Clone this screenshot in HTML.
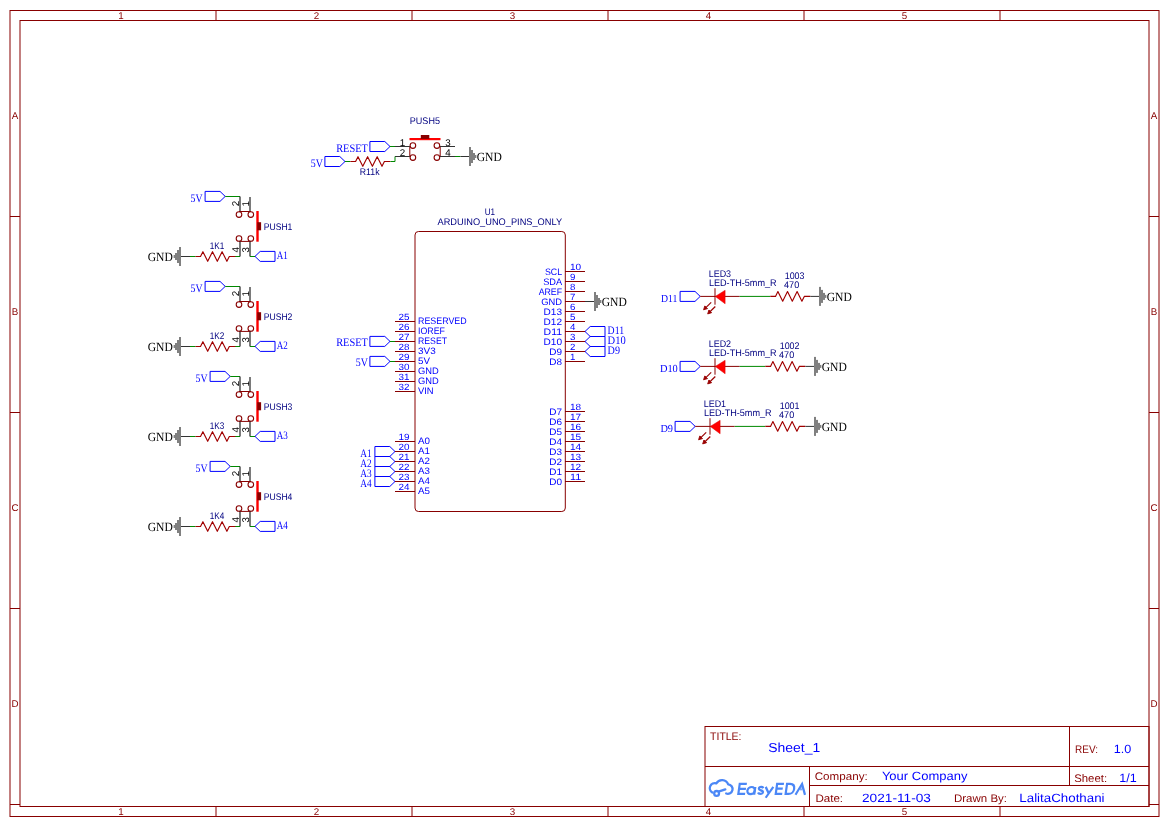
<!DOCTYPE html>
<html><head><meta charset="utf-8">
<style>
html,body{margin:0;padding:0;background:#fff;overflow:hidden;}
svg{display:block;will-change:transform;text-rendering:geometricPrecision;}
text{font-family:"Liberation Sans",sans-serif;}
.sf{font-family:"Liberation Serif",serif;}
</style></head><body>
<svg width="1169" height="827" viewBox="0 0 1169 827">
<g stroke="#880000" fill="none" stroke-width="1">
<rect x="10" y="10.5" width="1149" height="806"/>
<rect x="20" y="20.5" width="1129" height="786"/>
<path d="M216 10.5V20.5M412 10.5V20.5M608 10.5V20.5M804 10.5V20.5M1000 10.5V20.5"/>
<path d="M216 806.5V816.5M412 806.5V816.5M608 806.5V816.5M804 806.5V816.5M1000 806.5V816.5"/>
<path d="M10 216.5H20M10 412.5H20M10 608.5H20M10 804.5H20"/>
<path d="M1149 216.5H1159M1149 412.5H1159M1149 608.5H1159M1149 804.5H1159"/>
</g>
<g fill="#880000" font-size="9.8" text-anchor="middle">
<text x="121" y="18.5">1</text><text x="121" y="814.5">1</text>
<text x="316.5" y="18.5">2</text><text x="316.5" y="814.5">2</text>
<text x="512.5" y="18.5">3</text><text x="512.5" y="814.5">3</text>
<text x="708.5" y="18.5">4</text><text x="708.5" y="814.5">4</text>
<text x="904.5" y="18.5">5</text><text x="904.5" y="814.5">5</text>
<text x="15" y="118.5">A</text><text x="1154" y="118.5">A</text>
<text x="15" y="314.5">B</text><text x="1154" y="314.5">B</text>
<text x="15" y="510.5">C</text><text x="1154" y="510.5">C</text>
<text x="15" y="706.5">D</text><text x="1154" y="706.5">D</text>
</g>
<g stroke="#880000" fill="none" stroke-width="1">
<rect x="705" y="726.5" width="444" height="80"/>
<path d="M705 766.5H1149M1069.5 726.5V785.5M809.5 766.5V806.5M809.5 785.5H1149"/>
</g>
<g font-size="11" fill="#880000">
<text x="710.1" y="740" textLength="31.4" lengthAdjust="spacingAndGlyphs">TITLE:</text>
<text x="1075" y="752.7" textLength="23" lengthAdjust="spacingAndGlyphs">REV:</text>
<text x="1074.2" y="781.5" textLength="32.9" lengthAdjust="spacingAndGlyphs">Sheet:</text>
<text x="814.7" y="780.3" textLength="53" lengthAdjust="spacingAndGlyphs">Company:</text>
<text x="815.4" y="801.6" textLength="27.7" lengthAdjust="spacingAndGlyphs">Date:</text>
<text x="954" y="801.6" textLength="53" lengthAdjust="spacingAndGlyphs">Drawn By:</text>
</g>
<g font-size="12" fill="#0000ff">
<text x="768.2" y="751.9" font-size="13" textLength="52" lengthAdjust="spacingAndGlyphs">Sheet_1</text>
<text x="1113.8" y="752.7" font-size="12" textLength="17.5" lengthAdjust="spacingAndGlyphs">1.0</text>
<text x="1119.2" y="781.5" font-size="12" textLength="17.5" lengthAdjust="spacingAndGlyphs">1/1</text>
<text x="881.9" y="780.3" font-size="12" textLength="85.5" lengthAdjust="spacingAndGlyphs">Your Company</text>
<text x="862" y="801.6" font-size="12" textLength="68.9" lengthAdjust="spacingAndGlyphs">2021-11-03</text>
<text x="1019.3" y="801.7" font-size="12" textLength="85.3" lengthAdjust="spacingAndGlyphs">LalitaChothani</text>
</g>
<text x="409.8" y="123.7" font-size="9.6" fill="#000080" text-anchor="start" textLength="30.2" lengthAdjust="spacingAndGlyphs">PUSH5</text>
<rect x="409.5" y="138" width="31" height="2.2" fill="#ff0000"/>
<rect x="420.8" y="135" width="8.5" height="4" fill="#880000"/>
<circle cx="412.9" cy="145.6" r="2.8" fill="none" stroke="#880000" stroke-width="1.1"/>
<circle cx="412.9" cy="157.6" r="2.8" fill="none" stroke="#880000" stroke-width="1.1"/>
<circle cx="436.9" cy="145.6" r="2.8" fill="none" stroke="#880000" stroke-width="1.1"/>
<circle cx="436.9" cy="157.6" r="2.8" fill="none" stroke="#880000" stroke-width="1.1"/>
<path d="M409.8 146V157M440.2 146V157" fill="none" stroke="#880000" stroke-width="1"/>
<path d="M395 146.5H409.8M395 156.5H409.8M440 146.5H455M440 156.5H455" fill="none" stroke="#333333" stroke-width="1"/>
<text x="402.4" y="146.2" font-size="9.8" fill="#000" text-anchor="middle">1</text>
<text x="402.4" y="156.2" font-size="9.8" fill="#000" text-anchor="middle">2</text>
<text x="448" y="145.5" font-size="9.8" fill="#000" text-anchor="middle">3</text>
<text x="448" y="155.5" font-size="9.8" fill="#000" text-anchor="middle">4</text>
<path d="M369.9 141.5 H384.8 L390 146.5 L384.8 151.5 H369.9 Z" fill="none" stroke="#0000ff" stroke-width="1"/>
<text x="336.2" y="151.6" class="sf" font-size="11.5" fill="#0000ff" text-anchor="start" textLength="31.7" lengthAdjust="spacingAndGlyphs">RESET</text>
<path d="M390 146.5H395" fill="none" stroke="#008800" stroke-width="1"/>
<path d="M324.9 156.5 H339.8 L345 161.5 L339.8 166.5 H324.9 Z" fill="none" stroke="#0000ff" stroke-width="1"/>
<text x="310.8" y="166.5" class="sf" font-size="11.5" fill="#0000ff" text-anchor="start" textLength="12.2" lengthAdjust="spacingAndGlyphs">5V</text>
<path d="M345 161.5H350.4" fill="none" stroke="#008800" stroke-width="1"/>
<path d="M350.4 161.5 h5.2 l2.4 -4.8 l4.8 9.6 l4.8 -9.6 l4.8 9.6 l4.8 -9.6 l4.8 9.6 l2.4 -4.8 H390.4" fill="none" stroke="#a00000" stroke-width="1.15" stroke-linejoin="round"/>
<path d="M390.4 161.5H395V156.5" fill="none" stroke="#008800" stroke-width="1"/>
<text x="359.8" y="174.5" font-size="9.6" fill="#000080" text-anchor="start" textLength="19.8" lengthAdjust="spacingAndGlyphs">R11k</text>
<path d="M455 156.5H460.5" fill="none" stroke="#008800" stroke-width="1"/>
<path d="M460.5 156.5H469" fill="none" stroke="#333333" stroke-width="1"/>
<g fill="#808080"><rect x="469" y="147.0" width="2" height="19"/><rect x="471" y="150.0" width="2" height="13"/><rect x="473" y="153.0" width="2" height="7"/><rect x="475" y="155.0" width="1.4" height="3"/></g>
<text x="476.7" y="160.8" class="sf" font-size="12.5" fill="#000" text-anchor="start" textLength="25.1" lengthAdjust="spacingAndGlyphs">GND</text>
<path d="M205.1 191.4 H220.0 L225.2 196.4 L220.0 201.4 H205.1 Z" fill="none" stroke="#0000ff" stroke-width="1"/>
<text x="190.6" y="201.5" class="sf" font-size="11.5" fill="#0000ff" text-anchor="start" textLength="12" lengthAdjust="spacingAndGlyphs">5V</text>
<path d="M225.2 196.5H240" fill="none" stroke="#008800" stroke-width="1"/>
<path d="M240 196.5V211M250 197V211" fill="none" stroke="#333333" stroke-width="1.3"/>
<text transform="translate(239.2 203.6) rotate(-90)" font-size="9.8" fill="#000" text-anchor="middle">2</text>
<text transform="translate(249.2 203.9) rotate(-90)" font-size="9.8" fill="#000" text-anchor="middle">1</text>
<circle cx="239" cy="214.6" r="2.8" fill="none" stroke="#880000" stroke-width="1.1"/>
<circle cx="239" cy="238.5" r="2.8" fill="none" stroke="#880000" stroke-width="1.1"/>
<circle cx="250.8" cy="214.6" r="2.8" fill="none" stroke="#880000" stroke-width="1.1"/>
<circle cx="250.8" cy="238.5" r="2.8" fill="none" stroke="#880000" stroke-width="1.1"/>
<path d="M239 211.5H251M239 241.4H251" fill="none" stroke="#880000" stroke-width="1"/>
<rect x="256.3" y="211" width="2.4" height="30.7" fill="#ff0000"/>
<rect x="257.3" y="222.2" width="3.8" height="8.1" fill="#880000"/>
<text x="263.7" y="229.5" font-size="9.6" fill="#000080" text-anchor="start" textLength="28.7" lengthAdjust="spacingAndGlyphs">PUSH1</text>
<path d="M240 241.4V256.5M250 241.4V256.5" fill="none" stroke="#333333" stroke-width="1.3"/>
<text transform="translate(239 249.9) rotate(-90)" font-size="9.8" fill="#000" text-anchor="middle">4</text>
<text transform="translate(249 249.8) rotate(-90)" font-size="9.8" fill="#000" text-anchor="middle">3</text>
<path d="M235 256.5H240M250 256.5H255" fill="none" stroke="#008800" stroke-width="1"/>
<path d="M255 256.4 L260.2 251.39999999999998 H275 V261.4 H260.2 Z" fill="none" stroke="#0000ff" stroke-width="1"/>
<text x="276.7" y="258.9" class="sf" font-size="11.5" fill="#0000ff" text-anchor="start" textLength="11.1" lengthAdjust="spacingAndGlyphs">A1</text>
<path d="M195.3 256.5 h5.2 l2.4 -4.8 l4.8 9.6 l4.8 -9.6 l4.8 9.6 l4.8 -9.6 l4.8 9.6 l2.4 -4.8 H235.3" fill="none" stroke="#a00000" stroke-width="1.15" stroke-linejoin="round"/>
<text x="209.8" y="248.5" font-size="9.6" fill="#000080" text-anchor="start" textLength="14.6" lengthAdjust="spacingAndGlyphs">1K1</text>
<path d="M190 256.5H195.3" fill="none" stroke="#008800" stroke-width="1"/>
<path d="M181 256.5H190" fill="none" stroke="#333333" stroke-width="1"/>
<g fill="#808080"><rect x="179" y="247.0" width="2" height="19"/><rect x="177" y="250.0" width="2" height="13"/><rect x="175" y="253.0" width="2" height="7"/><rect x="173.6" y="255.0" width="1.4" height="3"/></g>
<text x="147.7" y="260.5" class="sf" font-size="12.5" fill="#000" text-anchor="start" textLength="25.1" lengthAdjust="spacingAndGlyphs">GND</text>
<path d="M205.1 281.4 H220.0 L225.2 286.4 L220.0 291.4 H205.1 Z" fill="none" stroke="#0000ff" stroke-width="1"/>
<text x="190.6" y="291.5" class="sf" font-size="11.5" fill="#0000ff" text-anchor="start" textLength="12" lengthAdjust="spacingAndGlyphs">5V</text>
<path d="M225.2 286.5H240" fill="none" stroke="#008800" stroke-width="1"/>
<path d="M240 286.5V301M250 287V301" fill="none" stroke="#333333" stroke-width="1.3"/>
<text transform="translate(239.2 293.6) rotate(-90)" font-size="9.8" fill="#000" text-anchor="middle">2</text>
<text transform="translate(249.2 293.9) rotate(-90)" font-size="9.8" fill="#000" text-anchor="middle">1</text>
<circle cx="239" cy="304.6" r="2.8" fill="none" stroke="#880000" stroke-width="1.1"/>
<circle cx="239" cy="328.5" r="2.8" fill="none" stroke="#880000" stroke-width="1.1"/>
<circle cx="250.8" cy="304.6" r="2.8" fill="none" stroke="#880000" stroke-width="1.1"/>
<circle cx="250.8" cy="328.5" r="2.8" fill="none" stroke="#880000" stroke-width="1.1"/>
<path d="M239 301.5H251M239 331.4H251" fill="none" stroke="#880000" stroke-width="1"/>
<rect x="256.3" y="301" width="2.4" height="30.7" fill="#ff0000"/>
<rect x="257.3" y="312.2" width="3.8" height="8.1" fill="#880000"/>
<text x="263.7" y="319.5" font-size="9.6" fill="#000080" text-anchor="start" textLength="28.7" lengthAdjust="spacingAndGlyphs">PUSH2</text>
<path d="M240 331.4V346.5M250 331.4V346.5" fill="none" stroke="#333333" stroke-width="1.3"/>
<text transform="translate(239 339.9) rotate(-90)" font-size="9.8" fill="#000" text-anchor="middle">4</text>
<text transform="translate(249 339.8) rotate(-90)" font-size="9.8" fill="#000" text-anchor="middle">3</text>
<path d="M235 346.5H240M250 346.5H255" fill="none" stroke="#008800" stroke-width="1"/>
<path d="M255 346.4 L260.2 341.4 H275 V351.4 H260.2 Z" fill="none" stroke="#0000ff" stroke-width="1"/>
<text x="276.7" y="348.9" class="sf" font-size="11.5" fill="#0000ff" text-anchor="start" textLength="11.1" lengthAdjust="spacingAndGlyphs">A2</text>
<path d="M195.3 346.5 h5.2 l2.4 -4.8 l4.8 9.6 l4.8 -9.6 l4.8 9.6 l4.8 -9.6 l4.8 9.6 l2.4 -4.8 H235.3" fill="none" stroke="#a00000" stroke-width="1.15" stroke-linejoin="round"/>
<text x="209.8" y="338.5" font-size="9.6" fill="#000080" text-anchor="start" textLength="14.6" lengthAdjust="spacingAndGlyphs">1K2</text>
<path d="M190 346.5H195.3" fill="none" stroke="#008800" stroke-width="1"/>
<path d="M181 346.5H190" fill="none" stroke="#333333" stroke-width="1"/>
<g fill="#808080"><rect x="179" y="337.0" width="2" height="19"/><rect x="177" y="340.0" width="2" height="13"/><rect x="175" y="343.0" width="2" height="7"/><rect x="173.6" y="345.0" width="1.4" height="3"/></g>
<text x="147.7" y="350.5" class="sf" font-size="12.5" fill="#000" text-anchor="start" textLength="25.1" lengthAdjust="spacingAndGlyphs">GND</text>
<path d="M210.1 371.4 H225.0 L230.2 376.4 L225.0 381.4 H210.1 Z" fill="none" stroke="#0000ff" stroke-width="1"/>
<text x="195.6" y="381.5" class="sf" font-size="11.5" fill="#0000ff" text-anchor="start" textLength="12" lengthAdjust="spacingAndGlyphs">5V</text>
<path d="M230.2 376.5H240" fill="none" stroke="#008800" stroke-width="1"/>
<path d="M240 376.5V391M250 377V391" fill="none" stroke="#333333" stroke-width="1.3"/>
<text transform="translate(239.2 383.6) rotate(-90)" font-size="9.8" fill="#000" text-anchor="middle">2</text>
<text transform="translate(249.2 383.9) rotate(-90)" font-size="9.8" fill="#000" text-anchor="middle">1</text>
<circle cx="239" cy="394.6" r="2.8" fill="none" stroke="#880000" stroke-width="1.1"/>
<circle cx="239" cy="418.5" r="2.8" fill="none" stroke="#880000" stroke-width="1.1"/>
<circle cx="250.8" cy="394.6" r="2.8" fill="none" stroke="#880000" stroke-width="1.1"/>
<circle cx="250.8" cy="418.5" r="2.8" fill="none" stroke="#880000" stroke-width="1.1"/>
<path d="M239 391.5H251M239 421.4H251" fill="none" stroke="#880000" stroke-width="1"/>
<rect x="256.3" y="391" width="2.4" height="30.7" fill="#ff0000"/>
<rect x="257.3" y="402.2" width="3.8" height="8.1" fill="#880000"/>
<text x="263.7" y="409.5" font-size="9.6" fill="#000080" text-anchor="start" textLength="28.7" lengthAdjust="spacingAndGlyphs">PUSH3</text>
<path d="M240 421.4V436.5M250 421.4V436.5" fill="none" stroke="#333333" stroke-width="1.3"/>
<text transform="translate(239 429.9) rotate(-90)" font-size="9.8" fill="#000" text-anchor="middle">4</text>
<text transform="translate(249 429.8) rotate(-90)" font-size="9.8" fill="#000" text-anchor="middle">3</text>
<path d="M235 436.5H240M250 436.5H255" fill="none" stroke="#008800" stroke-width="1"/>
<path d="M255 436.4 L260.2 431.4 H275 V441.4 H260.2 Z" fill="none" stroke="#0000ff" stroke-width="1"/>
<text x="276.7" y="438.9" class="sf" font-size="11.5" fill="#0000ff" text-anchor="start" textLength="11.1" lengthAdjust="spacingAndGlyphs">A3</text>
<path d="M195.3 436.5 h5.2 l2.4 -4.8 l4.8 9.6 l4.8 -9.6 l4.8 9.6 l4.8 -9.6 l4.8 9.6 l2.4 -4.8 H235.3" fill="none" stroke="#a00000" stroke-width="1.15" stroke-linejoin="round"/>
<text x="209.8" y="428.5" font-size="9.6" fill="#000080" text-anchor="start" textLength="14.6" lengthAdjust="spacingAndGlyphs">1K3</text>
<path d="M190 436.5H195.3" fill="none" stroke="#008800" stroke-width="1"/>
<path d="M181 436.5H190" fill="none" stroke="#333333" stroke-width="1"/>
<g fill="#808080"><rect x="179" y="427.0" width="2" height="19"/><rect x="177" y="430.0" width="2" height="13"/><rect x="175" y="433.0" width="2" height="7"/><rect x="173.6" y="435.0" width="1.4" height="3"/></g>
<text x="147.7" y="440.5" class="sf" font-size="12.5" fill="#000" text-anchor="start" textLength="25.1" lengthAdjust="spacingAndGlyphs">GND</text>
<path d="M210.1 461.4 H225.0 L230.2 466.4 L225.0 471.4 H210.1 Z" fill="none" stroke="#0000ff" stroke-width="1"/>
<text x="195.6" y="471.5" class="sf" font-size="11.5" fill="#0000ff" text-anchor="start" textLength="12" lengthAdjust="spacingAndGlyphs">5V</text>
<path d="M230.2 466.5H240" fill="none" stroke="#008800" stroke-width="1"/>
<path d="M240 466.5V481M250 467V481" fill="none" stroke="#333333" stroke-width="1.3"/>
<text transform="translate(239.2 473.6) rotate(-90)" font-size="9.8" fill="#000" text-anchor="middle">2</text>
<text transform="translate(249.2 473.9) rotate(-90)" font-size="9.8" fill="#000" text-anchor="middle">1</text>
<circle cx="239" cy="484.6" r="2.8" fill="none" stroke="#880000" stroke-width="1.1"/>
<circle cx="239" cy="508.5" r="2.8" fill="none" stroke="#880000" stroke-width="1.1"/>
<circle cx="250.8" cy="484.6" r="2.8" fill="none" stroke="#880000" stroke-width="1.1"/>
<circle cx="250.8" cy="508.5" r="2.8" fill="none" stroke="#880000" stroke-width="1.1"/>
<path d="M239 481.5H251M239 511.4H251" fill="none" stroke="#880000" stroke-width="1"/>
<rect x="256.3" y="481" width="2.4" height="30.7" fill="#ff0000"/>
<rect x="257.3" y="492.2" width="3.8" height="8.1" fill="#880000"/>
<text x="263.7" y="499.5" font-size="9.6" fill="#000080" text-anchor="start" textLength="28.7" lengthAdjust="spacingAndGlyphs">PUSH4</text>
<path d="M240 511.4V526.5M250 511.4V526.5" fill="none" stroke="#333333" stroke-width="1.3"/>
<text transform="translate(239 519.9) rotate(-90)" font-size="9.8" fill="#000" text-anchor="middle">4</text>
<text transform="translate(249 519.8) rotate(-90)" font-size="9.8" fill="#000" text-anchor="middle">3</text>
<path d="M235 526.5H240M250 526.5H255" fill="none" stroke="#008800" stroke-width="1"/>
<path d="M255 526.4 L260.2 521.4 H275 V531.4 H260.2 Z" fill="none" stroke="#0000ff" stroke-width="1"/>
<text x="276.7" y="528.9" class="sf" font-size="11.5" fill="#0000ff" text-anchor="start" textLength="11.1" lengthAdjust="spacingAndGlyphs">A4</text>
<path d="M195.3 526.5 h5.2 l2.4 -4.8 l4.8 9.6 l4.8 -9.6 l4.8 9.6 l4.8 -9.6 l4.8 9.6 l2.4 -4.8 H235.3" fill="none" stroke="#a00000" stroke-width="1.15" stroke-linejoin="round"/>
<text x="209.8" y="518.5" font-size="9.6" fill="#000080" text-anchor="start" textLength="14.6" lengthAdjust="spacingAndGlyphs">1K4</text>
<path d="M190 526.5H195.3" fill="none" stroke="#008800" stroke-width="1"/>
<path d="M181 526.5H190" fill="none" stroke="#333333" stroke-width="1"/>
<g fill="#808080"><rect x="179" y="517.0" width="2" height="19"/><rect x="177" y="520.0" width="2" height="13"/><rect x="175" y="523.0" width="2" height="7"/><rect x="173.6" y="525.0" width="1.4" height="3"/></g>
<text x="147.7" y="530.5" class="sf" font-size="12.5" fill="#000" text-anchor="start" textLength="25.1" lengthAdjust="spacingAndGlyphs">GND</text>
<text x="484.7" y="214.6" font-size="9.6" fill="#000080" text-anchor="start" textLength="10.3" lengthAdjust="spacingAndGlyphs">U1</text>
<text x="437.5" y="224.6" font-size="9.6" fill="#000080" text-anchor="start" textLength="124.6" lengthAdjust="spacingAndGlyphs">ARDUINO_UNO_PINS_ONLY</text>
<rect x="415" y="231.5" width="150.3" height="280" rx="3.5" fill="none" stroke="#880000" stroke-width="1"/>
<path d="M395 321.5H415M395 331.5H415M395 341.5H415M395 351.5H415M395 361.5H415M395 371.5H415M395 381.5H415M395 391.5H415M395 441.5H415M395 451.5H415M395 461.5H415M395 471.5H415M395 481.5H415M395 491.5H415M565 271.5H585M565 281.5H585M565 291.5H585M565 301.5H585M565 311.5H585M565 321.5H585M565 331.5H585M565 341.5H585M565 351.5H585M565 361.5H585M565 411.5H585M565 421.5H585M565 431.5H585M565 441.5H585M565 451.5H585M565 461.5H585M565 471.5H585M565 481.5H585" fill="none" stroke="#880000" stroke-width="1"/>
<g font-size="9" fill="#0000ff">
<text x="398.6" y="320.2" textLength="11" lengthAdjust="spacingAndGlyphs">25</text><text x="418" y="324.4" font-size="9.4" textLength="48.69" lengthAdjust="spacingAndGlyphs">RESERVED</text>
<text x="398.6" y="330.2" textLength="11" lengthAdjust="spacingAndGlyphs">26</text><text x="418" y="334.4" font-size="9.4" textLength="27.03" lengthAdjust="spacingAndGlyphs">IOREF</text>
<text x="398.6" y="340.2" textLength="11" lengthAdjust="spacingAndGlyphs">27</text><text x="418" y="344.4" font-size="9.4" textLength="29.03" lengthAdjust="spacingAndGlyphs">RESET</text>
<text x="398.6" y="350.2" textLength="11" lengthAdjust="spacingAndGlyphs">28</text><text x="418" y="354.4" font-size="9.4" textLength="17.73" lengthAdjust="spacingAndGlyphs">3V3</text>
<text x="398.6" y="360.2" textLength="11" lengthAdjust="spacingAndGlyphs">29</text><text x="418" y="364.4" font-size="9.4" textLength="11.96" lengthAdjust="spacingAndGlyphs">5V</text>
<text x="398.6" y="370.2" textLength="11" lengthAdjust="spacingAndGlyphs">30</text><text x="418" y="374.4" font-size="9.4" textLength="20.77" lengthAdjust="spacingAndGlyphs">GND</text>
<text x="398.6" y="380.2" textLength="11" lengthAdjust="spacingAndGlyphs">31</text><text x="418" y="384.4" font-size="9.4" textLength="20.77" lengthAdjust="spacingAndGlyphs">GND</text>
<text x="398.6" y="390.2" textLength="11" lengthAdjust="spacingAndGlyphs">32</text><text x="418" y="394.4" font-size="9.4" textLength="15.65" lengthAdjust="spacingAndGlyphs">VIN</text>
<text x="398.6" y="440.2" textLength="11" lengthAdjust="spacingAndGlyphs">19</text><text x="418" y="444.4" font-size="9.4" textLength="11.96" lengthAdjust="spacingAndGlyphs">A0</text>
<text x="398.6" y="450.2" textLength="11" lengthAdjust="spacingAndGlyphs">20</text><text x="418" y="454.4" font-size="9.4" textLength="11.96" lengthAdjust="spacingAndGlyphs">A1</text>
<text x="398.6" y="460.2" textLength="11" lengthAdjust="spacingAndGlyphs">21</text><text x="418" y="464.4" font-size="9.4" textLength="11.96" lengthAdjust="spacingAndGlyphs">A2</text>
<text x="398.6" y="470.2" textLength="11" lengthAdjust="spacingAndGlyphs">22</text><text x="418" y="474.4" font-size="9.4" textLength="11.96" lengthAdjust="spacingAndGlyphs">A3</text>
<text x="398.6" y="480.2" textLength="11" lengthAdjust="spacingAndGlyphs">23</text><text x="418" y="484.4" font-size="9.4" textLength="11.96" lengthAdjust="spacingAndGlyphs">A4</text>
<text x="398.6" y="490.2" textLength="11" lengthAdjust="spacingAndGlyphs">24</text><text x="418" y="494.4" font-size="9.4" textLength="11.96" lengthAdjust="spacingAndGlyphs">A5</text>
<text x="570" y="270.4" textLength="11.2" lengthAdjust="spacingAndGlyphs">10</text><text x="544.98" y="274.6" font-size="9.4" textLength="17.12" lengthAdjust="spacingAndGlyphs">SCL</text>
<text x="570" y="280.4" textLength="5.4" lengthAdjust="spacingAndGlyphs">9</text><text x="543.1700000000001" y="284.6" font-size="9.4" textLength="18.93" lengthAdjust="spacingAndGlyphs">SDA</text>
<text x="570" y="290.4" textLength="5.4" lengthAdjust="spacingAndGlyphs">8</text><text x="538.6700000000001" y="294.6" font-size="9.4" textLength="23.43" lengthAdjust="spacingAndGlyphs">AREF</text>
<text x="570" y="300.4" textLength="5.4" lengthAdjust="spacingAndGlyphs">7</text><text x="541.33" y="304.6" font-size="9.4" textLength="20.77" lengthAdjust="spacingAndGlyphs">GND</text>
<text x="570" y="310.4" textLength="5.4" lengthAdjust="spacingAndGlyphs">6</text><text x="543.6" y="314.6" font-size="9.4" textLength="18.5" lengthAdjust="spacingAndGlyphs">D13</text>
<text x="570" y="320.4" textLength="5.4" lengthAdjust="spacingAndGlyphs">5</text><text x="543.6" y="324.6" font-size="9.4" textLength="18.5" lengthAdjust="spacingAndGlyphs">D12</text>
<text x="570" y="330.4" textLength="5.4" lengthAdjust="spacingAndGlyphs">4</text><text x="543.6" y="334.6" font-size="9.4" textLength="18.5" lengthAdjust="spacingAndGlyphs">D11</text>
<text x="570" y="340.4" textLength="5.4" lengthAdjust="spacingAndGlyphs">3</text><text x="543.6" y="344.6" font-size="9.4" textLength="18.5" lengthAdjust="spacingAndGlyphs">D10</text>
<text x="570" y="350.4" textLength="5.4" lengthAdjust="spacingAndGlyphs">2</text><text x="549.36" y="354.6" font-size="9.4" textLength="12.74" lengthAdjust="spacingAndGlyphs">D9</text>
<text x="570" y="360.4" textLength="5.4" lengthAdjust="spacingAndGlyphs">1</text><text x="549.36" y="364.6" font-size="9.4" textLength="12.74" lengthAdjust="spacingAndGlyphs">D8</text>
<text x="570" y="410.4" textLength="11.2" lengthAdjust="spacingAndGlyphs">18</text><text x="549.36" y="414.6" font-size="9.4" textLength="12.74" lengthAdjust="spacingAndGlyphs">D7</text>
<text x="570" y="420.4" textLength="11.2" lengthAdjust="spacingAndGlyphs">17</text><text x="549.36" y="424.6" font-size="9.4" textLength="12.74" lengthAdjust="spacingAndGlyphs">D6</text>
<text x="570" y="430.4" textLength="11.2" lengthAdjust="spacingAndGlyphs">16</text><text x="549.36" y="434.6" font-size="9.4" textLength="12.74" lengthAdjust="spacingAndGlyphs">D5</text>
<text x="570" y="440.4" textLength="11.2" lengthAdjust="spacingAndGlyphs">15</text><text x="549.36" y="444.6" font-size="9.4" textLength="12.74" lengthAdjust="spacingAndGlyphs">D4</text>
<text x="570" y="450.4" textLength="11.2" lengthAdjust="spacingAndGlyphs">14</text><text x="549.36" y="454.6" font-size="9.4" textLength="12.74" lengthAdjust="spacingAndGlyphs">D3</text>
<text x="570" y="460.4" textLength="11.2" lengthAdjust="spacingAndGlyphs">13</text><text x="549.36" y="464.6" font-size="9.4" textLength="12.74" lengthAdjust="spacingAndGlyphs">D2</text>
<text x="570" y="470.4" textLength="11.2" lengthAdjust="spacingAndGlyphs">12</text><text x="549.36" y="474.6" font-size="9.4" textLength="12.74" lengthAdjust="spacingAndGlyphs">D1</text>
<text x="570" y="480.4" textLength="11.2" lengthAdjust="spacingAndGlyphs">11</text><text x="549.36" y="484.6" font-size="9.4" textLength="12.74" lengthAdjust="spacingAndGlyphs">D0</text>
</g>
<path d="M369.9 336.4 H384.8 L390 341.4 L384.8 346.4 H369.9 Z" fill="none" stroke="#0000ff" stroke-width="1"/>
<text x="336.2" y="346.3" class="sf" font-size="11.5" fill="#0000ff" text-anchor="start" textLength="31.7" lengthAdjust="spacingAndGlyphs">RESET</text>
<path d="M390 341.5H395" fill="none" stroke="#008800" stroke-width="1"/>
<path d="M369.9 356.4 H384.8 L390 361.4 L384.8 366.4 H369.9 Z" fill="none" stroke="#0000ff" stroke-width="1"/>
<text x="355.7" y="366.3" class="sf" font-size="11.5" fill="#0000ff" text-anchor="start" textLength="12.2" lengthAdjust="spacingAndGlyphs">5V</text>
<path d="M390 361.5H395" fill="none" stroke="#008800" stroke-width="1"/>
<path d="M374.9 446.5 H389.8 L395 451.5 L389.8 456.5 H374.9 Z" fill="none" stroke="#0000ff" stroke-width="1"/>
<text x="360.3" y="457.2" class="sf" font-size="11.5" fill="#0000ff" text-anchor="start" textLength="11.4" lengthAdjust="spacingAndGlyphs">A1</text>
<path d="M374.9 456.5 H389.8 L395 461.5 L389.8 466.5 H374.9 Z" fill="none" stroke="#0000ff" stroke-width="1"/>
<text x="360.3" y="467.2" class="sf" font-size="11.5" fill="#0000ff" text-anchor="start" textLength="11.4" lengthAdjust="spacingAndGlyphs">A2</text>
<path d="M374.9 466.5 H389.8 L395 471.5 L389.8 476.5 H374.9 Z" fill="none" stroke="#0000ff" stroke-width="1"/>
<text x="360.3" y="477.2" class="sf" font-size="11.5" fill="#0000ff" text-anchor="start" textLength="11.4" lengthAdjust="spacingAndGlyphs">A3</text>
<path d="M374.9 476.5 H389.8 L395 481.5 L389.8 486.5 H374.9 Z" fill="none" stroke="#0000ff" stroke-width="1"/>
<text x="360.3" y="487.2" class="sf" font-size="11.5" fill="#0000ff" text-anchor="start" textLength="11.4" lengthAdjust="spacingAndGlyphs">A4</text>
<path d="M585 331.5 L590.2 326.5 H605 V336.5 H590.2 Z" fill="none" stroke="#0000ff" stroke-width="1"/>
<text x="607.6" y="333.7" class="sf" font-size="11.5" fill="#0000ff" text-anchor="start" textLength="16.5" lengthAdjust="spacingAndGlyphs">D11</text>
<path d="M585 341.5 L590.2 336.5 H605 V346.5 H590.2 Z" fill="none" stroke="#0000ff" stroke-width="1"/>
<text x="607.6" y="343.7" class="sf" font-size="11.5" fill="#0000ff" text-anchor="start" textLength="18.1" lengthAdjust="spacingAndGlyphs">D10</text>
<path d="M585 351.5 L590.2 346.5 H605 V356.5 H590.2 Z" fill="none" stroke="#0000ff" stroke-width="1"/>
<text x="607.6" y="353.7" class="sf" font-size="11.5" fill="#0000ff" text-anchor="start" textLength="12.4" lengthAdjust="spacingAndGlyphs">D9</text>
<path d="M585 301.5H594" fill="none" stroke="#333333" stroke-width="1"/>
<g fill="#808080"><rect x="594" y="292.0" width="2" height="19"/><rect x="596" y="295.0" width="2" height="13"/><rect x="598" y="298.0" width="2" height="7"/><rect x="600" y="300.0" width="1.4" height="3"/></g>
<text x="601.7" y="305.8" class="sf" font-size="12.5" fill="#000" text-anchor="start" textLength="25.1" lengthAdjust="spacingAndGlyphs">GND</text>
<path d="M680.1 291.4 H695.0 L700.2 296.4 L695.0 301.4 H680.1 Z" fill="none" stroke="#0000ff" stroke-width="1"/>
<text x="661" y="301.7" class="sf" font-size="10.8" fill="#0000ff" text-anchor="start" textLength="16.4" lengthAdjust="spacingAndGlyphs">D11</text>
<path d="M700.2 296.4H739.7" fill="none" stroke="#880000" stroke-width="1"/>
<path d="M715 288.2V304.7" fill="none" stroke="#880000" stroke-width="1"/>
<path d="M715.3 296.4 L725.1 290.29999999999995 V303.79999999999995 Z" fill="#ff0000" stroke="#dd0000" stroke-width="0.5"/>
<path d="M711.2 302.4 L706.1 307.4" stroke="#990000" stroke-width="1.2" fill="none"/>
<path d="M703.6 309.79999999999995 l3.9 -1.2 l-2.7 -2.7 Z" fill="#990000" stroke="#990000" stroke-width="0.9" stroke-linejoin="round"/>
<path d="M715.3 306.49999999999994 L710.2 311.5" stroke="#990000" stroke-width="1.2" fill="none"/>
<path d="M707.7 313.9 l3.9 -1.2 l-2.7 -2.7 Z" fill="#990000" stroke="#990000" stroke-width="0.9" stroke-linejoin="round"/>
<text x="708.7" y="276.79999999999995" font-size="9.6" fill="#000080" text-anchor="start" textLength="22.4" lengthAdjust="spacingAndGlyphs">LED3</text>
<text x="708.9" y="285.7" font-size="9.6" fill="#000080" text-anchor="start" textLength="67.8" lengthAdjust="spacingAndGlyphs">LED-TH-5mm_R</text>
<path d="M739.7 296.4H770.3" fill="none" stroke="#008800" stroke-width="1"/>
<path d="M770.3 296.4 h5.2 l2.4 -4.8 l4.8 9.6 l4.8 -9.6 l4.8 9.6 l4.8 -9.6 l4.8 9.6 l2.4 -4.8 H810.3" fill="none" stroke="#a00000" stroke-width="1.15" stroke-linejoin="round"/>
<path d="M810.3 296.4H819" fill="none" stroke="#333333" stroke-width="1"/>
<g fill="#808080"><rect x="819" y="286.9" width="2" height="19"/><rect x="821" y="289.9" width="2" height="13"/><rect x="823" y="292.9" width="2" height="7"/><rect x="825" y="294.9" width="1.4" height="3"/></g>
<text x="826.7" y="300.7" class="sf" font-size="12.5" fill="#000" text-anchor="start" textLength="25.1" lengthAdjust="spacingAndGlyphs">GND</text>
<text x="784.7" y="279.29999999999995" font-size="9.6" fill="#000080" text-anchor="start" textLength="19.8" lengthAdjust="spacingAndGlyphs">1003</text>
<text x="784" y="288.4" font-size="9.6" fill="#000080" text-anchor="start" textLength="15.2" lengthAdjust="spacingAndGlyphs">470</text>
<path d="M680.1 361.4 H695.0 L700.2 366.4 L695.0 371.4 H680.1 Z" fill="none" stroke="#0000ff" stroke-width="1"/>
<text x="659.9" y="371.7" class="sf" font-size="10.8" fill="#0000ff" text-anchor="start" textLength="17.9" lengthAdjust="spacingAndGlyphs">D10</text>
<path d="M700.2 366.4H739.7" fill="none" stroke="#880000" stroke-width="1"/>
<path d="M715 358.2V374.7" fill="none" stroke="#880000" stroke-width="1"/>
<path d="M715.3 366.4 L725.1 360.29999999999995 V373.79999999999995 Z" fill="#ff0000" stroke="#dd0000" stroke-width="0.5"/>
<path d="M711.2 372.4 L706.1 377.4" stroke="#990000" stroke-width="1.2" fill="none"/>
<path d="M703.6 379.79999999999995 l3.9 -1.2 l-2.7 -2.7 Z" fill="#990000" stroke="#990000" stroke-width="0.9" stroke-linejoin="round"/>
<path d="M715.3 376.49999999999994 L710.2 381.5" stroke="#990000" stroke-width="1.2" fill="none"/>
<path d="M707.7 383.9 l3.9 -1.2 l-2.7 -2.7 Z" fill="#990000" stroke="#990000" stroke-width="0.9" stroke-linejoin="round"/>
<text x="708.7" y="346.79999999999995" font-size="9.6" fill="#000080" text-anchor="start" textLength="22.4" lengthAdjust="spacingAndGlyphs">LED2</text>
<text x="708.9" y="355.7" font-size="9.6" fill="#000080" text-anchor="start" textLength="67.8" lengthAdjust="spacingAndGlyphs">LED-TH-5mm_R</text>
<path d="M739.7 366.4H765.3" fill="none" stroke="#008800" stroke-width="1"/>
<path d="M765.3 366.4 h5.2 l2.4 -4.8 l4.8 9.6 l4.8 -9.6 l4.8 9.6 l4.8 -9.6 l4.8 9.6 l2.4 -4.8 H805.3" fill="none" stroke="#a00000" stroke-width="1.15" stroke-linejoin="round"/>
<path d="M805.3 366.4H814" fill="none" stroke="#333333" stroke-width="1"/>
<g fill="#808080"><rect x="814" y="356.9" width="2" height="19"/><rect x="816" y="359.9" width="2" height="13"/><rect x="818" y="362.9" width="2" height="7"/><rect x="820" y="364.9" width="1.4" height="3"/></g>
<text x="821.7" y="370.7" class="sf" font-size="12.5" fill="#000" text-anchor="start" textLength="25.1" lengthAdjust="spacingAndGlyphs">GND</text>
<text x="779.7" y="349.29999999999995" font-size="9.6" fill="#000080" text-anchor="start" textLength="19.8" lengthAdjust="spacingAndGlyphs">1002</text>
<text x="779" y="358.4" font-size="9.6" fill="#000080" text-anchor="start" textLength="15.2" lengthAdjust="spacingAndGlyphs">470</text>
<path d="M675.1 421.4 H690.0 L695.2 426.4 L690.0 431.4 H675.1 Z" fill="none" stroke="#0000ff" stroke-width="1"/>
<text x="660.4" y="431.7" class="sf" font-size="10.8" fill="#0000ff" text-anchor="start" textLength="12.6" lengthAdjust="spacingAndGlyphs">D9</text>
<path d="M695.2 426.4H734.7" fill="none" stroke="#880000" stroke-width="1"/>
<path d="M710 418.2V434.7" fill="none" stroke="#880000" stroke-width="1"/>
<path d="M710.3 426.4 L720.1 420.29999999999995 V433.79999999999995 Z" fill="#ff0000" stroke="#dd0000" stroke-width="0.5"/>
<path d="M706.2 432.4 L701.1 437.4" stroke="#990000" stroke-width="1.2" fill="none"/>
<path d="M698.6 439.79999999999995 l3.9 -1.2 l-2.7 -2.7 Z" fill="#990000" stroke="#990000" stroke-width="0.9" stroke-linejoin="round"/>
<path d="M710.3 436.49999999999994 L705.2 441.5" stroke="#990000" stroke-width="1.2" fill="none"/>
<path d="M702.7 443.9 l3.9 -1.2 l-2.7 -2.7 Z" fill="#990000" stroke="#990000" stroke-width="0.9" stroke-linejoin="round"/>
<text x="703.7" y="406.79999999999995" font-size="9.6" fill="#000080" text-anchor="start" textLength="22.4" lengthAdjust="spacingAndGlyphs">LED1</text>
<text x="703.9" y="415.7" font-size="9.6" fill="#000080" text-anchor="start" textLength="67.8" lengthAdjust="spacingAndGlyphs">LED-TH-5mm_R</text>
<path d="M734.7 426.4H765.3" fill="none" stroke="#008800" stroke-width="1"/>
<path d="M765.3 426.4 h5.2 l2.4 -4.8 l4.8 9.6 l4.8 -9.6 l4.8 9.6 l4.8 -9.6 l4.8 9.6 l2.4 -4.8 H805.3" fill="none" stroke="#a00000" stroke-width="1.15" stroke-linejoin="round"/>
<path d="M805.3 426.4H814" fill="none" stroke="#333333" stroke-width="1"/>
<g fill="#808080"><rect x="814" y="416.9" width="2" height="19"/><rect x="816" y="419.9" width="2" height="13"/><rect x="818" y="422.9" width="2" height="7"/><rect x="820" y="424.9" width="1.4" height="3"/></g>
<text x="821.7" y="430.7" class="sf" font-size="12.5" fill="#000" text-anchor="start" textLength="25.1" lengthAdjust="spacingAndGlyphs">GND</text>
<text x="779.7" y="409.29999999999995" font-size="9.6" fill="#000080" text-anchor="start" textLength="19.8" lengthAdjust="spacingAndGlyphs">1001</text>
<text x="779" y="418.4" font-size="9.6" fill="#000080" text-anchor="start" textLength="15.2" lengthAdjust="spacingAndGlyphs">470</text>
<g fill="none" stroke="#4b87f6" stroke-width="2.3" stroke-linecap="round" stroke-linejoin="round">
<path d="M712.3 792.5 A5 5 0 0 1 716.3 783.4 A6.6 6.6 0 0 1 728.2 784.3 A4.75 4.75 0 1 1 726.2 793.5"/>
<circle cx="716.6" cy="793.4" r="2.4"/><path d="M719.2 791.4 L725.3 789.4"/>
</g>
<g fill="none" stroke="#4b87f6" stroke-width="2.2" stroke-linejoin="miter" transform="translate(0 794.8) skewX(-8) translate(0 -794.8)">
<path d="M745.3 783.9 H738.2 V793.9 H745 M738.2 788.8 H745.1"/>
<ellipse cx="750.5" cy="790.6" rx="3.7" ry="3.6"/><path d="M754.2 786.9 V794.8"/>
<path d="M762.3 788.2 C761.8 787.2 760.8 786.9 760 786.9 C758.8 786.9 758 787.5 758 788.5 C758 790.9 762.6 789.9 762.6 792.2 C762.6 793.3 761.6 793.9 760.2 793.9 C759.2 793.9 758.2 793.4 757.7 792.5"/>
<path d="M764.6 786.9 L768.9 794 M772.2 786.9 L766.1 797.8"/>
<path d="M782.4 783.9 H775.6 V793.9 H782.1 M775.6 788.7 H781.9"/>
<path d="M785.5 783.9 V793.9 H788.5 C791.5 793.9 793.3 791.7 793.3 788.9 C793.3 786 791.5 783.9 788.5 783.9 Z"/>
<path d="M795.5 794.8 L800.5 783.9 L805 794.8"/>
<circle cx="800.3" cy="788.9" r="1.1" stroke-width="0.9"/>
</g>
</svg></body></html>
